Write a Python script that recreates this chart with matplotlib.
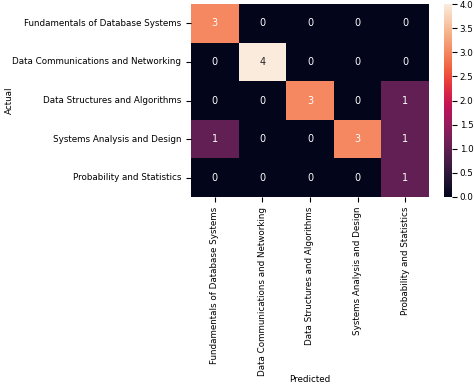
import matplotlib
matplotlib.use("Agg")
import matplotlib.pyplot as plt
import numpy as np
import pandas as pd
import seaborn as sns

# ── data ──────────────────────────────────────────────────────────────────────
CLASSES = [
    "Fundamentals of Database Systems",
    "Data Communications and Networking",
    "Data Structures and Algorithms",
    "Systems Analysis and Design",
    "Probability and Statistics",
]
ROW_FUND = [3, 0, 0, 0, 0]
ROW_COMM = [0, 4, 0, 0, 0]
ROW_DSA = [0, 0, 3, 0, 1]
ROW_SAD = [1, 0, 0, 3, 1]
ROW_PROB = [0, 0, 0, 0, 1]

FS = 6.3
plt.rcParams["font.family"] = ["DejaVu Sans"]
plt.rcParams["font.size"] = FS

cm = pd.DataFrame([ROW_FUND, ROW_COMM, ROW_DSA, ROW_SAD, ROW_PROB],
                  index=CLASSES, columns=CLASSES)

W, H = 474, 385
fig = plt.figure(figsize=(W / 100, H / 100), dpi=100)
ax = fig.add_axes([191 / W, (H - 197) / H, 238 / W, 193 / H])
cax = fig.add_axes([444 / W, (H - 197) / H, 8 / W, 193 / H])

sns.heatmap(cm, annot=True, fmt="d", ax=ax, cbar_ax=cax,
            annot_kws={"fontsize": 7})

ax.set_xticklabels(CLASSES, rotation=90, fontsize=FS)
ax.set_yticklabels(CLASSES, rotation=0, fontsize=FS)
ax.set_xlabel("Predicted", fontsize=FS)
ax.set_ylabel("Actual", fontsize=FS)
ax.xaxis.set_label_coords(0.5, -0.92)
ax.yaxis.set_label_coords(-0.745, 0.5)

cax.tick_params(labelsize=FS, pad=2)
cax.set_yticks(np.arange(0, 4.01, 0.5))

fig.savefig("out.png", dpi=100)
